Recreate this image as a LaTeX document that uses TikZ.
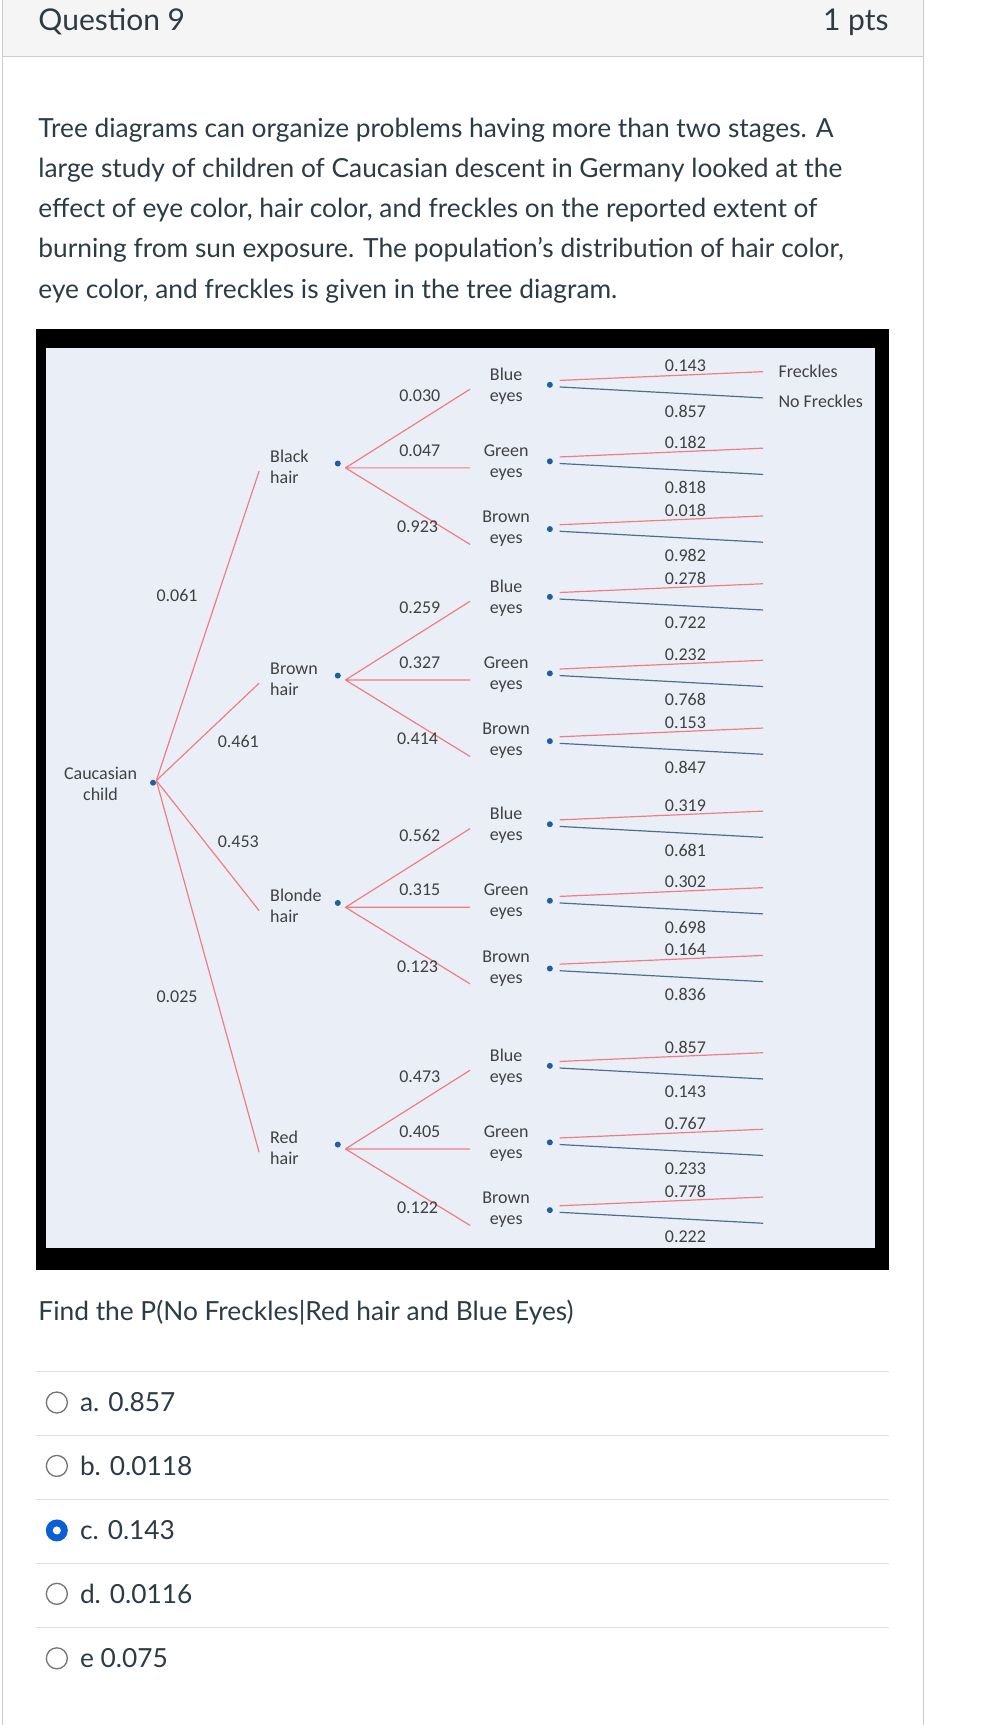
\documentclass[tikz,border=0pt]{standalone}
\usepackage{fontspec}
\setmainfont{Lato}
\newfontfamily\dgm{Carlito}
\definecolor{txt}{HTML}{2D3B45}
\definecolor{rl}{HTML}{F07C84}
\definecolor{bl}{HTML}{4E6E8E}
\definecolor{dotc}{HTML}{1F5FA0}
\definecolor{bgc}{HTML}{EAEFF7}
\definecolor{brd}{HTML}{C7CDD1}
\definecolor{sel}{HTML}{0B5FD6}
\begin{document}
\begin{tikzpicture}[x=1.093pt,y=-1.093pt,
  dt/.style={circle,fill=dotc,inner sep=0pt,minimum size=6pt},
  lab/.style={font=\dgm\fontsize{18}{21}\selectfont,text=black!75,inner sep=0pt},
  labl/.style={lab,align=left,anchor=west},
  pl/.style={lab},
  rline/.style={rl,line width=1.2pt},
  bline/.style={bl,line width=1.2pt},
  body/.style={font=\fontsize{26.3}{30}\selectfont,text=txt,anchor=west,inner sep=0pt},
  opt/.style={circle,draw=black!55,line width=1.3pt,minimum size=21pt,inner sep=0pt}]
\useasboundingbox (0,0) rectangle (907,1578);
\fill[white] (0,0) rectangle (907,1578);
% frame
\fill[black!4] (2,0) rectangle (845,52);
\draw[brd,line width=1pt] (2,0) -- (2,1578) (845,0) -- (845,1578) (2,52) -- (845,52);
\node[body,font=\fontsize{30}{34}\selectfont] (q) at (35,20) {Question 9};
\node[body,anchor=east,font=\fontsize{30}{34}\selectfont] (pts) at (813,20) {1 pts};
\node[body] (p1) at (35,119) {Tree diagrams can organize problems having more than two stages. A};
\node[body] (p2) at (35,156) {large study of children of Caucasian descent in Germany looked at the};
\node[body] (p3) at (35,192) {effect of eye color, hair color, and freckles on the reported extent of};
\node[body] (p4) at (35,229) {burning from sun exposure. The population's distribution of hair color,};
\node[body] (p5) at (35,266) {eye color, and freckles is given in the tree diagram.};
% diagram box
\fill[black] (33,301) rectangle (813,1162);
\fill[bgc] (42,318) rectangle (800,1142);
% root
\node[dt] (root) at (140,716) {};
\node[lab,align=center] (rootl) at (92,717) {Caucasian\\child};
\coordinate (rs) at (143,714);
\foreach \n/\y/\t/\p/\px/\py in {h1/424/Black/0.061/162/545, h2/618/Brown/0.461/218/678, h3/826/Blonde/0.453/218/770, h4/1047/Red/0.025/162/912}{
  \node[dt] (\n) at (309,\y) {};
  \node[labl] (\n l) at (247,\y+3) {\t\\hair};
  \coordinate (\n e) at (237,\y+7);
  \draw[rline] (rs) -- (\n e);
  \node[pl] (\n p) at (\px,\py) {\p};
}
% eyes
\foreach \h/\y/\a/\b/\c in {h1/424/0.030/0.047/0.923, h2/618/0.259/0.327/0.414, h3/826/0.562/0.315/0.123, h4/1047/0.473/0.405/0.122}{
  \coordinate (\h s) at (316,\y+4);
  \coordinate (\h a) at (430,\y-68);
  \coordinate (\h b) at (430,\y+4);
  \coordinate (\h c) at (430,\y+74);
  \draw[rline] (\h s) -- (\h a) (\h s) -- (\h b) (\h s) -- (\h c);
  \node[pl] (\h pa) at (384,\y-62) {\a};
  \node[pl] (\h pb) at (384,\y-12) {\b};
  \node[pl] (\h pc) at (382,\y+58) {\c};
  \node[lab,align=center] (\h la) at (463,\y-71) {Blue\\eyes};
  \node[lab,align=center] (\h lb) at (463,\y-1) {Green\\eyes};
  \node[lab,align=center] (\h lc) at (463,\y+60) {Brown\\eyes};
  \node[dt] (\h da) at (503,\y-72) {};
  \node[dt] (\h db) at (503,\y-2) {};
  \node[dt] (\h dc) at (503,\y+60) {};
}
% freckles
\foreach \d/\f/\nf in {h1da/0.143/0.857, h1db/0.182/0.818, h1dc/0.018/0.982,
  h2da/0.278/0.722, h2db/0.232/0.768, h2dc/0.153/0.847,
  h3da/0.319/0.681, h3db/0.302/0.698, h3dc/0.164/0.836,
  h4da/0.857/0.143, h4db/0.767/0.233, h4dc/0.778/0.222}{
  \path (\d.center) ++(195,-12) coordinate (\d R) ++(0,24) coordinate (\d B);
  \path (\d.center) ++(9,-4) coordinate (\d rs) ++(0,6) coordinate (\d bs);
  \draw[rline] (\d rs) -- (\d R);
  \draw[bline] (\d bs) -- (\d B);
  \path (\d.center) ++(124,-17) node[pl] (\d pf) {\f} ++(0,41) node[pl] (\d pn) {\nf};
}
\node[lab,anchor=west] (frk) at (712,340) {Freckles};
\node[lab,anchor=west] (nfrk) at (712,367) {No Freckles};
% question
\node[body] (qq) at (35,1201) {Find the P(No Freckles|Red hair and Blue Eyes)};
\foreach \y in {1255,1313,1372,1430,1489}{\draw[black!12,line width=1pt] (33,\y) -- (813,\y);}
\foreach \n/\y/\t in {oa/1283/a. 0.857, ob/1341/b. 0.0118, oc/1400/c. 0.143, od/1458/d. 0.0116, oe/1517/e 0.075}{
  \node[body] (\n t) at (73,\y) {\t};
}
\node[opt] (oa) at (52,1283) {};
\node[opt] (ob) at (52,1341) {};
\node[circle,fill=sel,minimum size=22pt,inner sep=0pt] (oc) at (52,1400) {};
\node[circle,fill=white,minimum size=8pt,inner sep=0pt] (occ) at (52,1400) {};
\node[opt] (od) at (52,1458) {};
\node[opt] (oe) at (52,1517) {};
\end{tikzpicture}
\end{document}
